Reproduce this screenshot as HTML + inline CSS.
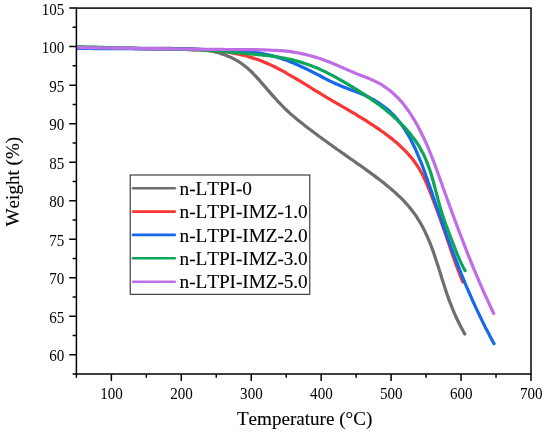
<!DOCTYPE html>
<html><head><meta charset="utf-8"><title>TGA curves</title>
<style>html,body{margin:0;padding:0;background:#fff;}svg{display:block;}</style>
</head><body>
<svg width="550" height="432" viewBox="0 0 550 432">
<rect x="0" y="0" width="550" height="432" fill="#fff"/>
<clipPath id="pc"><rect x="76.4" y="8.1" width="454.6" height="365.9"/></clipPath>
<g clip-path="url(#pc)">
<path d="M76.0,47.6C76.8,47.6 79.4,47.6 81.0,47.6C82.7,47.7 84.4,47.7 86.0,47.7C87.7,47.7 89.4,47.7 91.1,47.7C92.7,47.7 94.4,47.8 96.1,47.8C97.7,47.8 99.4,47.8 101.0,47.8C102.7,47.8 104.4,47.8 106.0,47.9C107.7,47.9 109.4,47.9 111.0,47.9C112.7,47.9 114.3,48.0 116.0,48.0C117.7,48.0 119.3,48.0 121.0,48.1C122.6,48.1 124.3,48.1 126.0,48.1C127.6,48.2 129.3,48.2 130.9,48.2C132.6,48.2 134.3,48.2 135.9,48.3C137.6,48.3 139.3,48.3 140.9,48.3C142.6,48.3 144.3,48.3 145.9,48.3C147.6,48.4 149.3,48.4 150.9,48.4C152.6,48.4 154.3,48.4 156.0,48.4C157.6,48.4 159.3,48.4 161.0,48.4C162.7,48.4 164.3,48.4 166.0,48.4C167.7,48.4 169.4,48.4 171.0,48.4C172.7,48.4 174.4,48.4 176.1,48.5C177.7,48.5 179.4,48.5 181.1,48.5C182.7,48.6 184.4,48.6 186.1,48.6C187.7,48.7 189.4,48.7 191.1,48.8C192.7,48.9 194.4,49.0 196.0,49.1C197.7,49.2 199.4,49.3 201.0,49.5C202.7,49.7 204.3,49.9 205.9,50.1C207.6,50.4 209.2,50.6 210.8,51.0C212.5,51.3 214.1,51.6 215.7,52.1C217.3,52.5 219.0,52.9 220.5,53.4C222.1,53.9 223.7,54.4 225.3,55.0C226.8,55.6 228.4,56.3 229.9,57.0C231.4,57.6 232.9,58.4 234.4,59.1C235.8,59.9 237.3,60.8 238.7,61.6C240.1,62.5 241.5,63.4 242.8,64.4C244.1,65.4 245.4,66.4 246.7,67.5C247.9,68.5 249.2,69.7 250.4,70.8C251.6,71.9 252.8,73.1 253.9,74.3C255.1,75.5 256.2,76.7 257.3,78.0C258.5,79.2 259.6,80.5 260.7,81.8C261.8,83.0 262.9,84.3 264.0,85.6C265.1,86.8 266.2,88.1 267.3,89.4C268.3,90.6 269.4,91.9 270.5,93.1C271.6,94.4 272.7,95.6 273.9,96.9C275.0,98.1 276.1,99.4 277.2,100.6C278.3,101.8 279.5,103.0 280.6,104.2C281.8,105.4 282.9,106.6 284.1,107.8C285.3,108.9 286.5,110.1 287.7,111.2C288.9,112.3 290.2,113.5 291.4,114.6C292.7,115.7 293.9,116.8 295.2,117.8C296.5,118.9 297.8,120.0 299.1,121.0C300.4,122.1 301.7,123.1 303.0,124.1C304.3,125.1 305.7,126.2 307.0,127.2C308.3,128.2 309.7,129.2 311.0,130.2C312.3,131.2 313.7,132.2 315.0,133.2C316.4,134.2 317.7,135.2 319.0,136.2C320.4,137.2 321.7,138.2 323.1,139.2C324.4,140.1 325.8,141.1 327.1,142.1C328.5,143.1 329.8,144.1 331.2,145.0C332.5,146.0 333.8,147.0 335.2,147.9C336.5,148.9 337.9,149.8 339.3,150.8C340.6,151.8 342.0,152.7 343.3,153.7C344.7,154.6 346.0,155.6 347.4,156.5C348.7,157.5 350.1,158.4 351.4,159.4C352.8,160.3 354.2,161.3 355.5,162.2C356.9,163.2 358.2,164.2 359.6,165.1C360.9,166.1 362.3,167.0 363.7,168.0C365.0,169.0 366.4,170.0 367.7,170.9C369.1,171.9 370.5,172.9 371.8,173.9C373.2,174.9 374.5,175.9 375.9,176.9C377.2,177.9 378.6,178.9 379.9,179.9C381.2,181.0 382.6,182.0 383.9,183.0C385.2,184.1 386.5,185.2 387.8,186.2C389.1,187.3 390.4,188.4 391.7,189.5C392.9,190.6 394.2,191.7 395.4,192.8C396.7,193.9 397.9,195.1 399.1,196.2C400.3,197.4 401.5,198.6 402.6,199.7C403.8,200.9 404.9,202.1 406.0,203.4C407.2,204.6 408.2,205.8 409.3,207.1C410.4,208.4 411.4,209.6 412.4,211.0C413.4,212.3 414.4,213.6 415.3,214.9C416.3,216.3 417.2,217.7 418.0,219.1C418.9,220.4 419.8,221.9 420.6,223.3C421.4,224.7 422.2,226.2 423.0,227.6C423.7,229.1 424.5,230.6 425.2,232.1C425.9,233.6 426.6,235.1 427.3,236.6C427.9,238.1 428.6,239.7 429.2,241.2C429.9,242.8 430.5,244.3 431.1,245.9C431.7,247.5 432.3,249.1 432.9,250.6C433.4,252.2 434.0,253.8 434.5,255.4C435.1,257.0 435.6,258.6 436.1,260.2C436.7,261.8 437.2,263.4 437.7,265.0C438.2,266.6 438.7,268.2 439.2,269.8C439.7,271.4 440.2,273.0 440.7,274.6C441.2,276.2 441.7,277.8 442.2,279.4C442.7,281.0 443.2,282.5 443.7,284.1C444.2,285.7 444.7,287.3 445.3,288.9C445.8,290.4 446.3,292.0 446.8,293.6C447.4,295.1 447.9,296.7 448.5,298.2C449.0,299.8 449.6,301.4 450.2,302.9C450.8,304.4 451.4,306.0 452.0,307.5C452.6,309.1 453.2,310.6 453.9,312.1C454.5,313.6 455.2,315.2 455.9,316.7C456.6,318.2 457.3,319.7 458.1,321.2C458.8,322.7 459.5,324.2 460.3,325.7C461.1,327.2 461.9,328.7 462.7,330.1C463.4,331.5 464.4,333.4 464.8,334.0" fill="none" stroke="#6e6e6e" stroke-width="3.2" stroke-linecap="round" stroke-linejoin="round"/>
<path d="M76.0,47.1C76.8,47.1 79.3,47.1 81.0,47.2C82.7,47.2 84.3,47.2 86.0,47.3C87.7,47.3 89.3,47.3 91.0,47.4C92.7,47.4 94.3,47.5 96.0,47.5C97.7,47.5 99.3,47.6 101.0,47.6C102.7,47.7 104.3,47.7 106.0,47.7C107.7,47.8 109.3,47.8 111.0,47.9C112.7,47.9 114.3,48.0 116.0,48.0C117.7,48.1 119.3,48.1 121.0,48.2C122.7,48.2 124.3,48.2 126.0,48.3C127.7,48.3 129.3,48.4 131.0,48.4C132.7,48.4 134.3,48.5 136.0,48.5C137.6,48.6 139.3,48.6 141.0,48.6C142.6,48.7 144.3,48.7 146.0,48.7C147.6,48.8 149.3,48.8 151.0,48.8C152.6,48.8 154.3,48.9 156.0,48.9C157.6,48.9 159.3,48.9 161.0,49.0C162.6,49.0 164.3,49.0 166.0,49.0C167.6,49.1 169.3,49.1 171.0,49.1C172.6,49.2 174.3,49.2 176.0,49.2C177.6,49.3 179.3,49.3 181.0,49.3C182.6,49.4 184.3,49.4 186.0,49.5C187.6,49.5 189.3,49.6 191.0,49.6C192.6,49.7 194.3,49.8 196.0,49.8C197.6,49.9 199.3,50.0 201.0,50.0C202.6,50.1 204.3,50.2 206.0,50.3C207.6,50.4 209.3,50.5 211.0,50.6C212.7,50.7 214.3,50.8 216.0,51.0C217.6,51.1 219.3,51.3 221.0,51.4C222.6,51.6 224.3,51.8 225.9,52.0C227.6,52.2 229.2,52.4 230.9,52.7C232.5,53.0 234.2,53.3 235.8,53.6C237.4,53.9 239.0,54.2 240.7,54.6C242.3,55.0 243.9,55.4 245.5,55.8C247.1,56.2 248.7,56.7 250.3,57.1C251.9,57.6 253.5,58.1 255.1,58.7C256.6,59.2 258.2,59.7 259.8,60.3C261.3,60.9 262.9,61.5 264.4,62.2C265.9,62.8 267.4,63.5 269.0,64.1C270.5,64.8 272.0,65.5 273.5,66.3C275.0,67.0 276.5,67.7 277.9,68.5C279.4,69.3 280.9,70.0 282.4,70.8C283.8,71.6 285.3,72.4 286.7,73.3C288.2,74.1 289.6,74.9 291.1,75.8C292.5,76.6 294.0,77.5 295.4,78.3C296.8,79.2 298.3,80.0 299.7,80.9C301.1,81.8 302.6,82.7 304.0,83.5C305.4,84.4 306.8,85.3 308.3,86.2C309.7,87.1 311.1,87.9 312.5,88.8C314.0,89.7 315.4,90.6 316.8,91.4C318.2,92.3 319.7,93.1 321.1,94.0C322.5,94.9 323.9,95.7 325.4,96.6C326.8,97.4 328.2,98.2 329.7,99.1C331.1,99.9 332.5,100.8 334.0,101.6C335.4,102.4 336.8,103.3 338.3,104.1C339.7,104.9 341.1,105.8 342.5,106.6C344.0,107.4 345.4,108.3 346.8,109.1C348.3,110.0 349.7,110.8 351.1,111.7C352.5,112.5 354.0,113.4 355.4,114.2C356.8,115.1 358.2,115.9 359.7,116.8C361.1,117.7 362.5,118.5 363.9,119.4C365.3,120.3 366.7,121.2 368.2,122.1C369.6,123.0 371.0,123.9 372.4,124.8C373.8,125.8 375.2,126.7 376.6,127.6C378.0,128.6 379.4,129.5 380.7,130.5C382.1,131.5 383.5,132.4 384.9,133.4C386.2,134.4 387.6,135.5 388.9,136.5C390.2,137.5 391.6,138.5 392.9,139.6C394.2,140.7 395.4,141.7 396.7,142.8C398.0,143.9 399.2,145.0 400.4,146.2C401.6,147.3 402.8,148.5 404.0,149.6C405.2,150.8 406.3,152.0 407.4,153.2C408.6,154.4 409.6,155.7 410.7,156.9C411.8,158.2 412.8,159.5 413.8,160.8C414.8,162.1 415.7,163.4 416.6,164.8C417.6,166.2 418.4,167.6 419.3,169.0C420.1,170.4 420.9,171.8 421.7,173.3C422.5,174.7 423.3,176.2 424.0,177.7C424.7,179.2 425.4,180.7 426.1,182.2C426.7,183.7 427.4,185.3 428.0,186.8C428.7,188.4 429.3,189.9 429.9,191.5C430.5,193.0 431.1,194.6 431.7,196.2C432.3,197.7 432.9,199.3 433.5,200.9C434.1,202.4 434.7,204.0 435.3,205.6C435.8,207.2 436.4,208.7 437.0,210.3C437.6,211.9 438.2,213.5 438.8,215.0C439.3,216.6 439.9,218.2 440.5,219.8C441.0,221.4 441.6,222.9 442.1,224.5C442.7,226.1 443.3,227.7 443.8,229.2C444.4,230.8 444.9,232.4 445.4,234.0C446.0,235.5 446.5,237.1 447.0,238.7C447.6,240.2 448.1,241.8 448.7,243.4C449.2,244.9 449.7,246.5 450.3,248.1C450.8,249.6 451.4,251.2 451.9,252.8C452.4,254.3 453.0,255.9 453.5,257.5C454.1,259.0 454.6,260.6 455.2,262.2C455.8,263.7 456.3,265.3 456.9,266.8C457.5,268.4 458.1,270.0 458.7,271.5C459.3,273.1 459.8,274.5 460.5,276.2C461.2,277.9 462.4,281.0 462.8,282.0" fill="none" stroke="#f93535" stroke-width="3.2" stroke-linecap="round" stroke-linejoin="round"/>
<path d="M76.0,48.3C76.8,48.4 79.3,48.4 81.0,48.4C82.7,48.4 84.3,48.5 86.0,48.5C87.7,48.5 89.3,48.5 91.0,48.5C92.7,48.5 94.3,48.6 96.0,48.6C97.7,48.6 99.3,48.6 101.0,48.6C102.7,48.6 104.3,48.6 106.0,48.6C107.7,48.7 109.3,48.7 111.0,48.7C112.7,48.7 114.3,48.7 116.0,48.7C117.7,48.7 119.3,48.7 121.0,48.7C122.7,48.7 124.3,48.7 126.0,48.7C127.7,48.7 129.3,48.7 131.0,48.7C132.7,48.7 134.3,48.7 136.0,48.8C137.7,48.8 139.3,48.8 141.0,48.8C142.7,48.8 144.3,48.8 146.0,48.8C147.7,48.8 149.3,48.8 151.0,48.8C152.7,48.8 154.3,48.8 156.0,48.8C157.7,48.8 159.3,48.9 161.0,48.9C162.7,48.9 164.3,48.9 166.0,48.9C167.7,48.9 169.3,48.9 171.0,48.9C172.6,49.0 174.3,49.0 176.0,49.0C177.6,49.0 179.3,49.0 181.0,49.1C182.6,49.1 184.3,49.1 186.0,49.1C187.6,49.2 189.3,49.2 191.0,49.2C192.6,49.2 194.3,49.3 196.0,49.3C197.6,49.3 199.3,49.4 201.0,49.4C202.6,49.5 204.3,49.5 206.0,49.5C207.6,49.6 209.3,49.6 211.0,49.7C212.6,49.7 214.3,49.8 216.0,49.8C217.7,49.9 219.3,50.0 221.0,50.0C222.7,50.1 224.3,50.1 226.0,50.2C227.7,50.3 229.3,50.4 231.0,50.4C232.7,50.5 234.3,50.6 236.0,50.7C237.7,50.8 239.3,50.9 241.0,51.0C242.7,51.1 244.3,51.3 246.0,51.4C247.6,51.6 249.3,51.7 250.9,51.9C252.6,52.1 254.3,52.3 255.9,52.5C257.5,52.8 259.2,53.0 260.8,53.3C262.5,53.6 264.1,53.9 265.7,54.2C267.3,54.6 269.0,55.0 270.6,55.4C272.2,55.8 273.8,56.2 275.4,56.7C277.0,57.1 278.6,57.6 280.2,58.1C281.8,58.6 283.3,59.2 284.9,59.7C286.5,60.3 288.0,60.9 289.6,61.5C291.1,62.1 292.7,62.7 294.2,63.4C295.8,64.0 297.3,64.7 298.8,65.4C300.3,66.0 301.8,66.7 303.3,67.5C304.8,68.2 306.3,68.9 307.8,69.6C309.3,70.4 310.8,71.1 312.3,71.9C313.7,72.7 315.2,73.4 316.7,74.2C318.2,75.0 319.7,75.8 321.2,76.5C322.6,77.3 324.1,78.1 325.6,78.9C327.1,79.6 328.6,80.4 330.1,81.1C331.7,81.8 333.2,82.6 334.7,83.3C336.2,84.0 337.8,84.6 339.3,85.3C340.9,86.0 342.4,86.6 344.0,87.2C345.5,87.8 347.1,88.4 348.6,89.0C350.2,89.6 351.7,90.2 353.2,90.8C354.8,91.3 356.3,91.9 357.9,92.5C359.4,93.1 360.9,93.7 362.5,94.3C364.0,94.9 365.5,95.6 367.0,96.3C368.5,97.0 370.0,97.8 371.5,98.6C372.9,99.4 374.4,100.2 375.8,101.1C377.3,101.9 378.7,102.8 380.0,103.8C381.4,104.7 382.8,105.7 384.1,106.7C385.4,107.7 386.7,108.7 388.0,109.8C389.2,110.9 390.4,112.0 391.6,113.2C392.8,114.3 394.0,115.5 395.1,116.7C396.2,118.0 397.3,119.2 398.3,120.5C399.4,121.8 400.4,123.1 401.4,124.5C402.4,125.8 403.3,127.2 404.3,128.6C405.2,130.0 406.1,131.4 406.9,132.9C407.8,134.3 408.7,135.8 409.5,137.3C410.3,138.7 411.1,140.2 411.8,141.7C412.6,143.2 413.3,144.7 414.1,146.2C414.8,147.7 415.5,149.2 416.2,150.8C416.8,152.3 417.5,153.8 418.1,155.3C418.8,156.9 419.4,158.4 420.0,159.9C420.7,161.5 421.3,163.0 421.9,164.6C422.4,166.1 423.0,167.7 423.6,169.2C424.2,170.8 424.7,172.3 425.3,173.9C425.9,175.5 426.4,177.0 427.0,178.6C427.5,180.2 428.1,181.7 428.6,183.3C429.2,184.9 429.7,186.4 430.3,188.0C430.8,189.6 431.3,191.2 431.9,192.7C432.4,194.3 433.0,195.9 433.5,197.5C434.0,199.0 434.6,200.6 435.1,202.2C435.7,203.8 436.2,205.4 436.7,206.9C437.3,208.5 437.8,210.1 438.4,211.7C438.9,213.3 439.5,214.8 440.0,216.4C440.6,218.0 441.1,219.6 441.7,221.1C442.2,222.7 442.8,224.3 443.3,225.9C443.9,227.4 444.4,229.0 445.0,230.6C445.5,232.2 446.1,233.7 446.7,235.3C447.2,236.9 447.8,238.4 448.4,240.0C448.9,241.6 449.5,243.1 450.1,244.7C450.7,246.3 451.2,247.8 451.8,249.4C452.4,251.0 453.0,252.5 453.6,254.1C454.2,255.6 454.8,257.2 455.4,258.8C456.0,260.3 456.6,261.9 457.2,263.4C457.8,265.0 458.4,266.5 459.0,268.1C459.6,269.6 460.2,271.2 460.8,272.7C461.5,274.3 462.1,275.8 462.7,277.3C463.3,278.9 464.0,280.4 464.6,282.0C465.2,283.5 465.9,285.0 466.5,286.6C467.2,288.1 467.8,289.6 468.5,291.2C469.2,292.7 469.8,294.2 470.5,295.7C471.2,297.3 471.8,298.8 472.5,300.3C473.2,301.8 473.9,303.4 474.6,304.9C475.3,306.4 476.0,307.9 476.7,309.4C477.4,310.9 478.1,312.4 478.8,313.9C479.5,315.4 480.2,316.9 481.0,318.4C481.7,319.9 482.4,321.4 483.2,322.9C483.9,324.4 484.7,325.9 485.4,327.4C486.2,328.9 486.9,330.3 487.7,331.8C488.5,333.3 489.3,334.8 490.0,336.2C490.8,337.7 491.7,339.4 492.4,340.7C493.1,341.9 493.8,343.2 494.1,343.7" fill="none" stroke="#1469eb" stroke-width="3.2" stroke-linecap="round" stroke-linejoin="round"/>
<path d="M76.0,46.8C76.8,46.8 79.4,46.9 81.0,46.9C82.7,46.9 84.4,47.0 86.0,47.0C87.7,47.0 89.4,47.1 91.0,47.1C92.7,47.1 94.4,47.2 96.0,47.2C97.7,47.3 99.4,47.3 101.0,47.4C102.7,47.4 104.4,47.5 106.0,47.5C107.7,47.6 109.4,47.6 111.0,47.7C112.7,47.7 114.4,47.8 116.0,47.8C117.7,47.9 119.4,47.9 121.0,47.9C122.7,48.0 124.4,48.0 126.0,48.1C127.7,48.1 129.3,48.2 131.0,48.2C132.7,48.3 134.3,48.3 136.0,48.3C137.7,48.4 139.3,48.4 141.0,48.5C142.7,48.5 144.3,48.5 146.0,48.6C147.6,48.6 149.3,48.6 151.0,48.7C152.6,48.7 154.3,48.7 156.0,48.7C157.6,48.8 159.3,48.8 161.0,48.8C162.6,48.9 164.3,48.9 165.9,48.9C167.6,49.0 169.3,49.0 170.9,49.0C172.6,49.1 174.3,49.1 175.9,49.1C177.6,49.2 179.3,49.2 180.9,49.3C182.6,49.3 184.3,49.4 185.9,49.4C187.6,49.5 189.3,49.5 190.9,49.6C192.6,49.6 194.3,49.7 195.9,49.8C197.6,49.9 199.3,49.9 200.9,50.0C202.6,50.1 204.3,50.2 205.9,50.3C207.6,50.4 209.3,50.5 210.9,50.6C212.6,50.7 214.3,50.8 215.9,51.0C217.6,51.1 219.3,51.2 220.9,51.3C222.6,51.5 224.3,51.6 226.0,51.7C227.6,51.9 229.3,52.0 231.0,52.2C232.6,52.3 234.3,52.5 236.0,52.6C237.6,52.7 239.3,52.9 241.0,53.0C242.6,53.2 244.3,53.3 245.9,53.5C247.6,53.6 249.3,53.7 250.9,53.9C252.6,54.0 254.2,54.2 255.9,54.4C257.5,54.5 259.2,54.7 260.9,54.8C262.5,55.0 264.2,55.2 265.8,55.4C267.4,55.6 269.1,55.8 270.7,56.0C272.4,56.2 274.0,56.4 275.6,56.7C277.3,56.9 278.9,57.2 280.5,57.5C282.2,57.8 283.8,58.0 285.4,58.4C287.0,58.7 288.7,59.0 290.3,59.4C291.9,59.7 293.5,60.1 295.1,60.6C296.7,61.0 298.3,61.4 299.9,61.9C301.5,62.3 303.1,62.9 304.6,63.4C306.2,63.9 307.8,64.5 309.4,65.0C310.9,65.6 312.5,66.2 314.1,66.9C315.6,67.5 317.2,68.1 318.7,68.8C320.2,69.5 321.8,70.2 323.3,70.9C324.8,71.6 326.3,72.3 327.8,73.1C329.3,73.8 330.8,74.6 332.3,75.4C333.8,76.2 335.3,77.0 336.8,77.8C338.3,78.6 339.7,79.4 341.2,80.3C342.6,81.1 344.1,82.0 345.5,82.8C347.0,83.7 348.4,84.5 349.8,85.4C351.3,86.3 352.7,87.2 354.1,88.0C355.5,88.9 356.9,89.8 358.3,90.7C359.7,91.6 361.1,92.5 362.5,93.4C363.8,94.3 365.2,95.2 366.6,96.1C367.9,97.0 369.3,97.9 370.7,98.9C372.0,99.8 373.4,100.7 374.7,101.7C376.0,102.6 377.4,103.6 378.7,104.6C380.0,105.6 381.3,106.6 382.7,107.6C384.0,108.6 385.3,109.6 386.6,110.7C387.9,111.7 389.2,112.8 390.4,113.9C391.7,115.0 393.0,116.1 394.2,117.2C395.5,118.4 396.7,119.5 397.9,120.7C399.1,121.8 400.4,123.0 401.5,124.2C402.7,125.4 403.9,126.6 405.0,127.9C406.1,129.1 407.3,130.4 408.3,131.6C409.4,132.9 410.5,134.2 411.5,135.5C412.6,136.8 413.6,138.2 414.5,139.5C415.5,140.9 416.5,142.2 417.4,143.6C418.3,145.0 419.2,146.4 420.0,147.8C420.8,149.3 421.6,150.7 422.4,152.2C423.2,153.6 423.9,155.1 424.6,156.6C425.3,158.1 425.9,159.6 426.5,161.2C427.2,162.7 427.8,164.2 428.3,165.8C428.9,167.3 429.4,168.9 430.0,170.5C430.5,172.1 431.0,173.6 431.5,175.2C431.9,176.8 432.4,178.4 432.9,180.1C433.3,181.7 433.8,183.3 434.2,184.9C434.6,186.5 435.1,188.1 435.5,189.8C435.9,191.4 436.3,193.0 436.8,194.7C437.2,196.3 437.6,197.9 438.0,199.5C438.5,201.2 438.9,202.8 439.4,204.4C439.8,206.0 440.3,207.6 440.7,209.2C441.2,210.8 441.7,212.4 442.2,214.0C442.7,215.6 443.2,217.2 443.8,218.8C444.3,220.3 444.9,221.9 445.4,223.5C446.0,225.0 446.6,226.6 447.2,228.1C447.7,229.7 448.3,231.2 448.9,232.8C449.5,234.3 450.1,235.9 450.7,237.4C451.3,239.0 451.9,240.5 452.5,242.1C453.1,243.6 453.7,245.2 454.3,246.7C454.9,248.3 455.5,249.8 456.1,251.4C456.7,252.9 457.3,254.5 458.0,256.0C458.6,257.5 459.3,259.1 460.0,260.6C460.7,262.1 461.3,263.4 462.1,265.1C463.0,266.8 464.6,269.8 465.1,270.7" fill="none" stroke="#0ca65a" stroke-width="3.2" stroke-linecap="round" stroke-linejoin="round"/>
<path d="M76.0,47.6C76.8,47.6 79.3,47.6 81.0,47.7C82.7,47.7 84.3,47.7 86.0,47.7C87.7,47.7 89.4,47.7 91.0,47.8C92.7,47.8 94.4,47.8 96.0,47.8C97.7,47.8 99.4,47.9 101.0,47.9C102.7,47.9 104.4,47.9 106.0,48.0C107.7,48.0 109.4,48.0 111.0,48.0C112.7,48.0 114.4,48.1 116.0,48.1C117.7,48.1 119.4,48.1 121.0,48.2C122.7,48.2 124.4,48.2 126.0,48.2C127.7,48.3 129.3,48.3 131.0,48.3C132.7,48.3 134.3,48.4 136.0,48.4C137.7,48.4 139.3,48.4 141.0,48.5C142.7,48.5 144.3,48.5 146.0,48.5C147.7,48.6 149.3,48.6 151.0,48.6C152.6,48.6 154.3,48.7 156.0,48.7C157.6,48.7 159.3,48.7 161.0,48.7C162.6,48.8 164.3,48.8 166.0,48.8C167.6,48.8 169.3,48.9 171.0,48.9C172.6,48.9 174.3,48.9 176.0,49.0C177.6,49.0 179.3,49.0 180.9,49.0C182.6,49.0 184.3,49.1 185.9,49.1C187.6,49.1 189.3,49.1 190.9,49.1C192.6,49.2 194.3,49.2 195.9,49.2C197.6,49.2 199.3,49.2 201.0,49.3C202.6,49.3 204.3,49.3 206.0,49.3C207.6,49.3 209.3,49.3 211.0,49.3C212.6,49.4 214.3,49.4 216.0,49.4C217.6,49.4 219.3,49.4 221.0,49.4C222.7,49.4 224.3,49.4 226.0,49.5C227.7,49.5 229.3,49.5 231.0,49.5C232.7,49.5 234.4,49.5 236.0,49.5C237.7,49.5 239.4,49.5 241.0,49.5C242.7,49.6 244.4,49.6 246.1,49.6C247.7,49.6 249.4,49.6 251.1,49.6C252.7,49.7 254.4,49.7 256.1,49.7C257.7,49.7 259.4,49.7 261.1,49.8C262.7,49.8 264.4,49.8 266.1,49.9C267.7,49.9 269.4,50.0 271.0,50.1C272.7,50.1 274.4,50.2 276.0,50.3C277.7,50.4 279.3,50.5 281.0,50.7C282.6,50.8 284.3,50.9 285.9,51.1C287.6,51.3 289.2,51.5 290.8,51.7C292.5,52.0 294.1,52.2 295.8,52.5C297.4,52.8 299.0,53.1 300.6,53.4C302.3,53.8 303.9,54.1 305.5,54.5C307.1,54.9 308.7,55.3 310.4,55.7C312.0,56.2 313.6,56.6 315.2,57.1C316.8,57.6 318.4,58.1 319.9,58.6C321.5,59.2 323.1,59.7 324.7,60.3C326.3,60.9 327.8,61.5 329.4,62.1C331.0,62.7 332.5,63.4 334.1,64.0C335.6,64.7 337.2,65.3 338.7,66.0C340.3,66.7 341.8,67.3 343.3,68.0C344.9,68.7 346.4,69.4 347.9,70.0C349.5,70.7 351.0,71.4 352.5,72.0C354.1,72.7 355.6,73.3 357.2,73.9C358.7,74.5 360.2,75.1 361.8,75.7C363.3,76.3 364.8,76.9 366.4,77.5C367.9,78.1 369.4,78.7 370.9,79.4C372.4,80.0 373.9,80.7 375.4,81.4C376.9,82.1 378.3,82.9 379.8,83.7C381.2,84.5 382.6,85.4 384.0,86.3C385.4,87.2 386.8,88.2 388.1,89.2C389.4,90.2 390.8,91.2 392.0,92.3C393.3,93.4 394.5,94.5 395.7,95.7C396.9,96.8 398.1,98.0 399.2,99.2C400.3,100.5 401.4,101.7 402.5,103.0C403.6,104.3 404.6,105.6 405.6,107.0C406.6,108.3 407.6,109.7 408.6,111.0C409.5,112.4 410.4,113.8 411.3,115.2C412.3,116.6 413.1,118.1 414.0,119.5C414.9,120.9 415.7,122.4 416.5,123.8C417.3,125.3 418.1,126.8 418.9,128.2C419.7,129.7 420.5,131.2 421.2,132.7C421.9,134.2 422.7,135.6 423.4,137.1C424.1,138.7 424.8,140.2 425.5,141.7C426.2,143.2 426.8,144.7 427.5,146.2C428.1,147.8 428.8,149.3 429.4,150.8C430.0,152.4 430.7,153.9 431.3,155.5C431.9,157.0 432.5,158.6 433.1,160.1C433.7,161.7 434.3,163.2 434.9,164.8C435.4,166.3 436.0,167.9 436.6,169.5C437.2,171.0 437.7,172.6 438.3,174.2C438.9,175.7 439.4,177.3 440.0,178.9C440.5,180.5 441.1,182.0 441.7,183.6C442.2,185.2 442.8,186.7 443.3,188.3C443.9,189.9 444.5,191.4 445.0,193.0C445.6,194.6 446.2,196.2 446.7,197.7C447.3,199.3 447.9,200.9 448.4,202.4C449.0,204.0 449.6,205.6 450.1,207.1C450.7,208.7 451.3,210.3 451.8,211.8C452.4,213.4 453.0,215.0 453.6,216.5C454.1,218.1 454.7,219.7 455.3,221.2C455.9,222.8 456.5,224.3 457.0,225.9C457.6,227.5 458.2,229.0 458.8,230.6C459.4,232.2 460.0,233.7 460.6,235.3C461.2,236.8 461.8,238.4 462.4,239.9C463.0,241.5 463.6,243.1 464.2,244.6C464.8,246.2 465.4,247.7 466.0,249.3C466.6,250.8 467.2,252.4 467.8,253.9C468.4,255.5 469.0,257.0 469.7,258.6C470.3,260.1 470.9,261.6 471.5,263.2C472.2,264.7 472.8,266.3 473.4,267.8C474.1,269.4 474.7,270.9 475.3,272.4C476.0,274.0 476.6,275.5 477.3,277.0C477.9,278.6 478.6,280.1 479.2,281.6C479.9,283.2 480.6,284.7 481.2,286.2C481.9,287.8 482.6,289.3 483.2,290.8C483.9,292.3 484.6,293.8 485.3,295.4C486.0,296.9 486.7,298.4 487.4,299.9C488.1,301.4 488.7,302.9 489.5,304.5C490.2,306.0 490.9,307.5 491.6,309.0C492.3,310.5 493.3,312.7 493.7,313.4" fill="none" stroke="#be6ee6" stroke-width="3.2" stroke-linecap="round" stroke-linejoin="round"/>
</g>
<rect x="76.4" y="8.1" width="454.6" height="365.9" fill="none" stroke="#000" stroke-width="1.5"/>
<path d="M76.40,374.0v3.8M111.37,374.0v7.0M146.34,374.0v3.8M181.31,374.0v7.0M216.28,374.0v3.8M251.25,374.0v7.0M286.22,374.0v3.8M321.18,374.0v7.0M356.15,374.0v3.8M391.12,374.0v7.0M426.09,374.0v3.8M461.06,374.0v7.0M496.03,374.0v3.8M531.00,374.0v7.0M76.4,374.00h-3.8M76.4,354.74h-7.2M76.4,335.48h-3.8M76.4,316.23h-7.2M76.4,296.97h-3.8M76.4,277.71h-7.2M76.4,258.45h-3.8M76.4,239.19h-7.2M76.4,219.94h-3.8M76.4,200.68h-7.2M76.4,181.42h-3.8M76.4,162.16h-7.2M76.4,142.91h-3.8M76.4,123.65h-7.2M76.4,104.39h-3.8M76.4,85.13h-7.2M76.4,65.87h-3.8M76.4,46.62h-7.2M76.4,27.36h-3.8M76.4,8.10h-7.2" stroke="#000" stroke-width="1.5" fill="none"/>
<g font-family="'Liberation Serif', serif" font-size="16.2px" fill="#000">
<text transform="translate(111.6,399.4) scale(0.93,1)" text-anchor="middle">100</text>
<text transform="translate(181.5,399.4) scale(0.93,1)" text-anchor="middle">200</text>
<text transform="translate(251.4,399.4) scale(0.93,1)" text-anchor="middle">300</text>
<text transform="translate(321.4,399.4) scale(0.93,1)" text-anchor="middle">400</text>
<text transform="translate(391.3,399.4) scale(0.93,1)" text-anchor="middle">500</text>
<text transform="translate(461.3,399.4) scale(0.93,1)" text-anchor="middle">600</text>
<text transform="translate(531.2,399.4) scale(0.93,1)" text-anchor="middle">700</text>
<text transform="translate(64.3,361.2) scale(0.93,1)" text-anchor="end">60</text>
<text transform="translate(64.3,322.7) scale(0.93,1)" text-anchor="end">65</text>
<text transform="translate(64.3,284.2) scale(0.93,1)" text-anchor="end">70</text>
<text transform="translate(64.3,245.6) scale(0.93,1)" text-anchor="end">75</text>
<text transform="translate(64.3,207.1) scale(0.93,1)" text-anchor="end">80</text>
<text transform="translate(64.3,168.6) scale(0.93,1)" text-anchor="end">85</text>
<text transform="translate(64.3,130.1) scale(0.93,1)" text-anchor="end">90</text>
<text transform="translate(64.3,91.6) scale(0.93,1)" text-anchor="end">95</text>
<text transform="translate(64.3,53.1) scale(0.93,1)" text-anchor="end">100</text>
<text transform="translate(64.3,14.6) scale(0.93,1)" text-anchor="end">105</text>
</g>
<g font-family="'Liberation Serif', serif" font-size="19.3px" fill="#000" stroke="#000" stroke-width="0.12" style="font-kerning:none">
<text x="304.6" y="424.6" text-anchor="middle" font-size="19.1px">Temperature (°C)</text>
<text transform="translate(18.9,181.6) rotate(-90)" text-anchor="middle" font-size="19.1px">Weight (%)</text>
</g>
<rect x="130.2" y="175.0" width="179.6" height="119.3" fill="#fff" stroke="#1a1a1a" stroke-width="1"/>
<g font-family="'Liberation Serif', serif" font-size="19.3px" fill="#000" stroke="#000" stroke-width="0.12" style="font-kerning:none" letter-spacing="-0.07">
<path d="M133,188.2H174.8" stroke="#6e6e6e" stroke-width="2.6" stroke-linecap="round" fill="none"/>
<text x="179.6" y="194.8">n-LTPI-0</text>
<path d="M133,211.6H174.8" stroke="#f93535" stroke-width="2.6" stroke-linecap="round" fill="none"/>
<text x="179.6" y="218.2">n-LTPI-IMZ-1.0</text>
<path d="M133,234.9H174.8" stroke="#1469eb" stroke-width="2.6" stroke-linecap="round" fill="none"/>
<text x="179.6" y="241.5">n-LTPI-IMZ-2.0</text>
<path d="M133,258.3H174.8" stroke="#0ca65a" stroke-width="2.6" stroke-linecap="round" fill="none"/>
<text x="179.6" y="264.9">n-LTPI-IMZ-3.0</text>
<path d="M133,281.7H174.8" stroke="#be6ee6" stroke-width="2.6" stroke-linecap="round" fill="none"/>
<text x="179.6" y="288.3">n-LTPI-IMZ-5.0</text>
</g>
</svg>
</body></html>
